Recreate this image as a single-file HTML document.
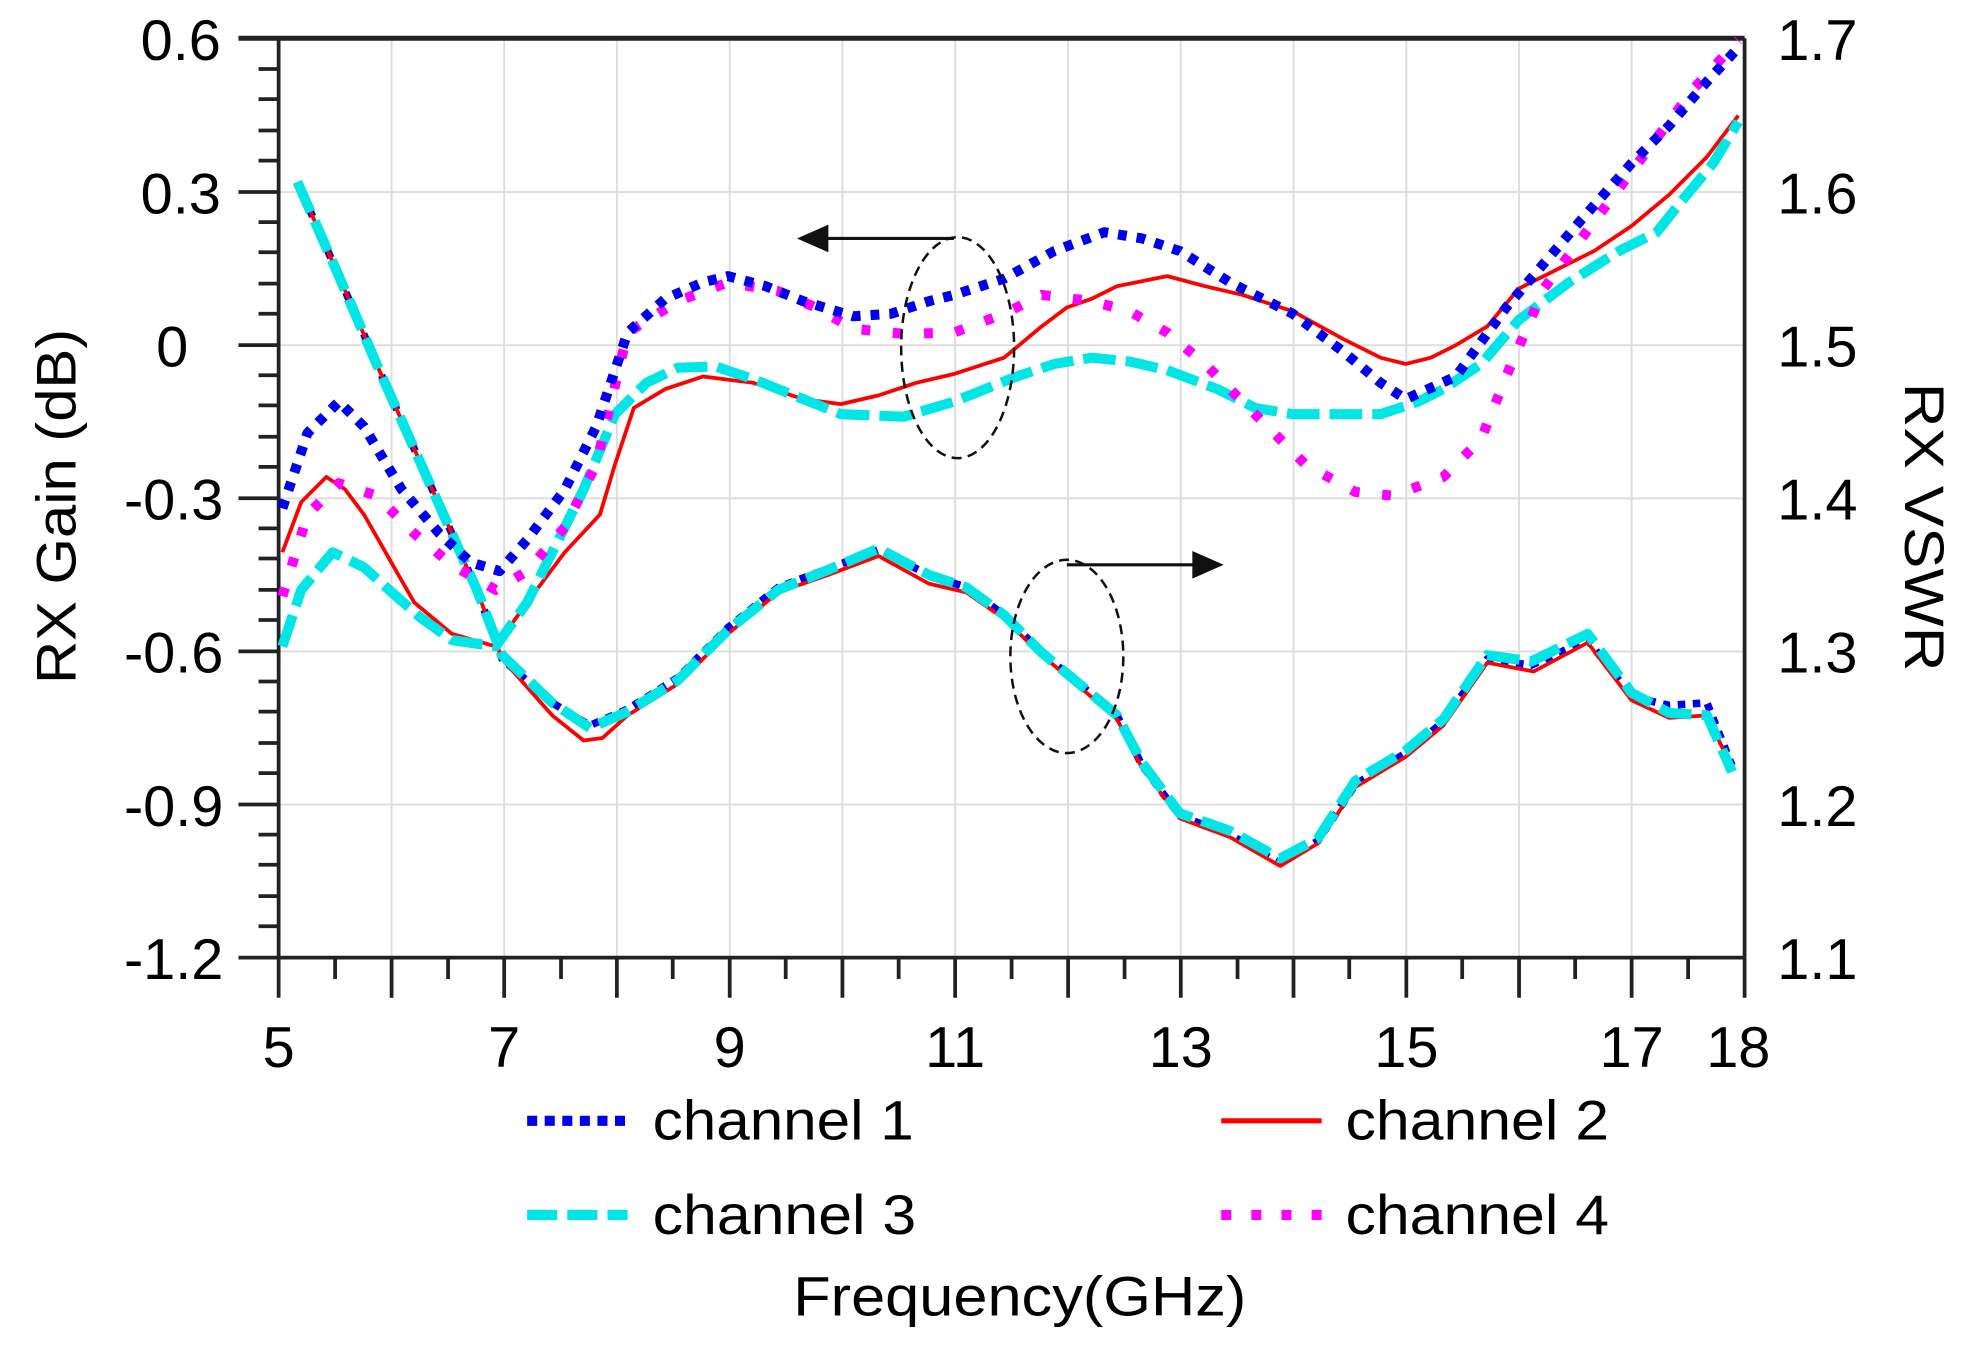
<!DOCTYPE html>
<html><head><meta charset="utf-8"><style>html,body{margin:0;padding:0;background:#fff}svg{display:block}</style></head><body>
<svg width="1968" height="1353" viewBox="0 0 1568 1078" preserveAspectRatio="none" xmlns="http://www.w3.org/2000/svg" font-family="Liberation Sans, sans-serif">
<rect width="1568" height="1078" fill="#fff"/>
<g stroke="#ddd" stroke-width="1.5">
<line x1="312" y1="30.5" x2="312" y2="763"/><line x1="401.7" y1="30.5" x2="401.7" y2="763"/><line x1="491.5" y1="30.5" x2="491.5" y2="763"/><line x1="581.4" y1="30.5" x2="581.4" y2="763"/><line x1="671.2" y1="30.5" x2="671.2" y2="763"/><line x1="761" y1="30.5" x2="761" y2="763"/><line x1="851" y1="30.5" x2="851" y2="763"/><line x1="940.8" y1="30.5" x2="940.8" y2="763"/><line x1="1030.6" y1="30.5" x2="1030.6" y2="763"/><line x1="1120.5" y1="30.5" x2="1120.5" y2="763"/><line x1="1210.3" y1="30.5" x2="1210.3" y2="763"/><line x1="1300" y1="30.5" x2="1300" y2="763"/>
<line x1="222" y1="153" x2="1390" y2="153"/><line x1="222" y1="275" x2="1390" y2="275"/><line x1="222" y1="397" x2="1390" y2="397"/><line x1="222" y1="519" x2="1390" y2="519"/><line x1="222" y1="641" x2="1390" y2="641"/>
</g>
<g stroke="#222" stroke-width="3" fill="none">
<line x1="190" y1="30.5" x2="1390" y2="30.5" stroke-width="4"/>
<line x1="222" y1="30.5" x2="222" y2="795"/>
<line x1="190" y1="763" x2="1390" y2="763"/>
<line x1="1390" y1="30.5" x2="1390" y2="763"/>
<path d="M190 153H222M190 275H222M190 397H222M190 519H222M190 641H222M206 55H222M206 79H222M206 104H222M206 128H222M206 177H222M206 201H222M206 226H222M206 250H222M206 299H222M206 323H222M206 348H222M206 372H222M206 421H222M206 445H222M206 470H222M206 494H222M206 543H222M206 567H222M206 592H222M206 616H222M206 665H222M206 689H222M206 714H222M206 738H222"/>
<path d="M312 763V795M401.7 763V795M491.5 763V795M581.4 763V795M671.2 763V795M761 763V795M851 763V795M940.8 763V795M1030.6 763V795M1120.5 763V795M1210.3 763V795M1300 763V795M1390 763V795M267 763V780M357 763V780M447 763V780M536 763V780M626 763V780M716 763V780M806 763V780M896 763V780M986 763V780M1075 763V780M1165 763V780M1255 763V780M1345 763V780"/>
</g>
<g font-size="46" fill="#000" text-anchor="end">
<text x="176" y="48">0.6</text><text x="176" y="170">0.3</text><text x="150" y="292">0</text><text x="178" y="414">-0.3</text><text x="178" y="536">-0.6</text><text x="178" y="658">-0.9</text><text x="178" y="780">-1.2</text>
</g>
<g font-size="46" fill="#000">
<text x="1416" y="48">1.7</text><text x="1416" y="170">1.6</text><text x="1416" y="292">1.5</text><text x="1416" y="414">1.4</text><text x="1416" y="536">1.3</text><text x="1416" y="658">1.2</text><text x="1416" y="780">1.1</text>
</g>
<g font-size="46" fill="#000" text-anchor="middle">
<text x="222" y="850">5</text><text x="401.7" y="850">7</text><text x="581.4" y="850">9</text><text x="761" y="850">11</text><text x="940.8" y="850">13</text><text x="1120.5" y="850">15</text><text x="1300" y="850">17</text><text x="1385" y="850">18</text>
</g>
<g font-size="44" fill="#000">
<text x="632" y="1048" textLength="361" lengthAdjust="spacingAndGlyphs">Frequency(GHz)</text>
<text transform="translate(60,545) rotate(-90)" textLength="283" lengthAdjust="spacingAndGlyphs">RX Gain (dB)</text>
<text transform="translate(1518,305) rotate(90)" textLength="230" lengthAdjust="spacingAndGlyphs">RX VSWR</text>
<text x="520" y="908" textLength="208" lengthAdjust="spacingAndGlyphs">channel 1</text><text x="1072" y="908" textLength="210" lengthAdjust="spacingAndGlyphs">channel 2</text>
<text x="520" y="983" textLength="210" lengthAdjust="spacingAndGlyphs">channel 3</text><text x="1072" y="983" textLength="210" lengthAdjust="spacingAndGlyphs">channel 4</text>
</g>
<g fill="none" stroke-linejoin="round" stroke-linecap="butt">
<polyline stroke="#0000ee" stroke-width="6" stroke-dasharray="6 6" points="237,145 270,220 300,290 340,380 380,470 400,525 440,560 470,578 500,565 540,540 580,500 620,468 660,453 700,438 740,458 770,468 800,490 830,520 860,545 890,570 910,610 940,650 980,665 1020,688 1050,670 1080,625 1120,600 1150,575 1185,525 1220,530 1265,510 1300,555 1330,562 1360,560 1380,610"/>
<polyline stroke="#f00" stroke-width="3" points="237,145 270,220 300,290 340,380 380,470 400,525 440,570 465,590 480,588 500,570 540,545 580,505 620,472 660,458 700,443 740,465 770,472 800,493 830,522 860,547 890,573 910,612 940,652 980,667 1020,690 1050,672 1080,627 1120,603 1150,578 1185,528 1222,535 1265,512 1300,558 1330,572 1360,570 1380,612"/>
<polyline stroke="#00e5e5" stroke-width="8" stroke-dasharray="26 8" points="237,145 270,220 300,290 340,380 380,470 400,522 440,560 470,580 500,567 540,542 580,502 620,470 660,454 700,437 740,458 770,468 800,490 830,520 860,545 890,570 910,608 940,648 980,662 1020,684 1050,668 1080,622 1120,598 1150,573 1185,522 1220,527 1265,505 1300,552 1330,568 1360,570 1380,615"/>
<polyline stroke="#f00" stroke-width="3" points="225,440 240,400 260,380 275,390 290,410 310,445 330,480 360,505 395,515 420,480 450,440 478,410 490,370 505,325 530,310 560,300 600,305 640,318 670,322 700,315 730,305 760,298 800,285 830,260 850,245 870,238 890,228 930,220 960,228 990,235 1030,248 1070,270 1100,285 1120,290 1140,285 1160,275 1185,260 1210,230 1240,215 1270,200 1300,180 1330,155 1360,125 1385,92"/>
<polyline stroke="#00e5e5" stroke-width="8" stroke-dasharray="26 8" points="225,515 240,470 265,440 290,452 310,470 335,492 360,510 395,515 420,480 440,440 465,390 490,330 515,305 540,293 570,292 600,302 640,318 670,330 720,332 760,320 810,300 840,290 870,285 900,288 930,295 970,310 1000,325 1030,330 1060,330 1100,330 1130,320 1150,310 1180,290 1210,255 1250,225 1290,200 1320,185 1340,160 1365,130 1385,97"/>
<polyline stroke="#ff00ff" stroke-width="8" stroke-dasharray="7 18" points="225,475 245,410 270,385 300,395 330,425 360,450 395,470 420,455 450,420 475,370 500,265 540,240 580,225 620,232 650,245 680,262 720,266 760,265 800,250 830,235 870,240 900,248 930,265 960,290 1000,330 1040,370 1080,392 1110,395 1150,380 1180,350 1200,300 1230,230 1260,190 1290,150 1320,110 1350,70 1385,32"/>
<polyline stroke="#0000ee" stroke-width="8" stroke-dasharray="7 8" points="225,405 245,345 270,320 290,340 320,390 350,425 375,448 398,455 420,430 450,390 475,340 500,265 530,238 560,225 580,220 610,228 640,240 680,252 710,250 740,240 760,235 800,222 840,200 880,185 910,190 940,200 980,225 1030,250 1070,280 1100,305 1120,318 1160,300 1200,245 1230,210 1260,175 1300,130 1330,100 1360,65 1385,38"/>
</g>
<g stroke="#111" stroke-width="2" fill="none" stroke-dasharray="8 5">
<ellipse cx="763" cy="277" rx="45" ry="88"/>
<ellipse cx="850" cy="523" rx="45" ry="77"/>
</g>
<g stroke="#111" stroke-width="2.5" fill="#111">
<line x1="760" y1="190" x2="650" y2="190"/><polygon points="635,190 660,179 660,201" stroke="none"/>
<line x1="850" y1="450" x2="960" y2="450"/><polygon points="975,450 950,439 950,461" stroke="none"/>
</g>
<g fill="none">
<line x1="420" y1="893" x2="500" y2="893" stroke="#0000ee" stroke-width="8" stroke-dasharray="8 6"/>
<line x1="973" y1="893" x2="1053" y2="893" stroke="#f00" stroke-width="4"/>
<line x1="420" y1="968" x2="500" y2="968" stroke="#00e5e5" stroke-width="8" stroke-dasharray="24 8"/>
<line x1="973" y1="968" x2="1053" y2="968" stroke="#ff00ff" stroke-width="8" stroke-dasharray="8 16"/>
</g>
</svg>
</body></html>
